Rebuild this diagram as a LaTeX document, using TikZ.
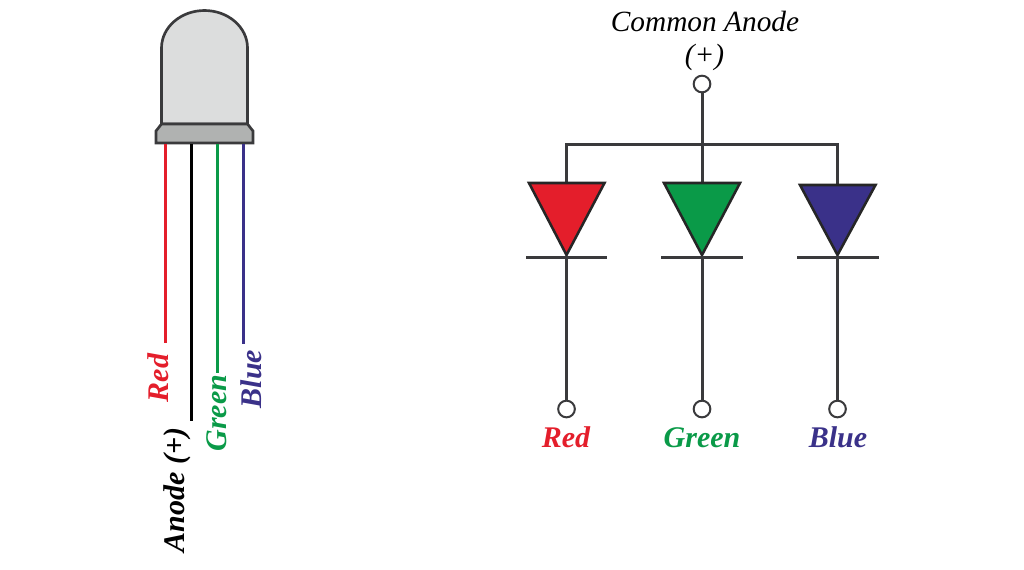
\documentclass[tikz,border=0pt]{standalone}
\usepackage{fontspec}
\setmainfont{Liberation Serif}
\definecolor{cred}{HTML}{E41E2B}
\definecolor{cgreen}{HTML}{0A9A48}
\definecolor{cblue}{HTML}{3A3189}
\definecolor{wire}{HTML}{3A3A3C}
\definecolor{lens}{HTML}{DCDDDD}
\definecolor{flange}{HTML}{B0B2B1}
\tikzset{
  lead/.style={line width=2.25pt},
  wirel/.style={line width=2.25pt,draw=wire},
  term/.style={circle,draw=wire,fill=white,line width=1.5pt,minimum size=12.5pt,inner sep=0pt},
  diode/.style={draw=black!85,line width=1.9pt,line join=miter},
  lab/.style={font=\fontsize{22.5}{24}\selectfont\itshape\bfseries,inner sep=0pt},
  plain/.style={font=\fontsize{22}{24}\selectfont\itshape,inner sep=0pt},
}
\begin{document}
\begin{tikzpicture}[x=0.75pt,y=-0.75pt]
\useasboundingbox (0,0) rectangle (1024,569);
% LED body
\draw[draw=wire,fill=lens,line width=2pt] (161.5,124) -- (161.5,48) arc[start angle=180,end angle=360,x radius=43,y radius=37.5] -- (247.5,124) -- cycle;
\draw[draw=wire,fill=flange,line width=2pt] (156,143) -- (156,131) -- (161.5,124) -- (247.5,124) -- (253,131) -- (253,143) -- cycle;
% leads
\coordinate (r1) at (165,144); \coordinate (r2) at (165,343);
\coordinate (a1) at (191,144); \coordinate (a2) at (191,421);
\coordinate (g1) at (217,144); \coordinate (g2) at (217,373);
\coordinate (b1) at (243,144); \coordinate (b2) at (243,344);
\draw[lead,cred] (r1) -- (r2);
\draw[lead,black] (a1) -- (a2);
\draw[lead,cgreen] (g1) -- (g2);
\draw[lead,cblue] (b1) -- (b2);
\node[lab,cred,rotate=90] (lr) at (158,378) {Red};
\node[lab,black,rotate=90] (la) at (177,490) {Anode (+)};
\node[lab,cgreen,rotate=90] (lg) at (217,413) {Green};
\node[lab,cblue,rotate=90] (lb) at (251,379) {Blue};
% schematic
\node[plain] (title) at (705,21) {Common Anode};
\node[plain] (plus) at (704.5,57) {(+)};
\node[term] (top) at (702,84) {};
\coordinate (tl) at (566.5,144); \coordinate (tm) at (702,144); \coordinate (tr) at (837.5,144);
\coordinate (ra) at (566.5,183); \coordinate (ga) at (702,183); \coordinate (ba) at (837.5,185);
\coordinate (rk) at (566.5,257); \coordinate (gk) at (702,257); \coordinate (bk) at (837.5,257);
\node[term] (rt) at (566.5,409) {};
\node[term] (gt) at (702,409) {};
\node[term] (bt) at (837.5,409) {};
\draw[wirel] (top) -- (ga);
\draw[wirel] (ra) -- (tl) -- (tr) -- (ba);
\draw[wirel] (rk) -- (rt);
\draw[wirel] (gk) -- (gt);
\draw[wirel] (bk) -- (bt);
\draw[diode,fill=cred] (529,183) -- (604.5,183) -- (566.5,255) -- cycle;
\draw[diode,fill=cgreen] (664,183) -- (740,183) -- (702,255) -- cycle;
\draw[diode,fill=cblue] (800,185) -- (875.5,185) -- (837.5,255) -- cycle;
\draw[wirel] (526,257) -- (607,257);
\draw[wirel] (661,257) -- (743,257);
\draw[wirel] (797,257) -- (879,257);
\node[lab,cred,anchor=base] (tr1) at (566,447) {Red};
\node[lab,cgreen,anchor=base] (tg1) at (702,447) {Green};
\node[lab,cblue,anchor=base] (tb1) at (838,447) {Blue};
\end{tikzpicture}
\end{document}
